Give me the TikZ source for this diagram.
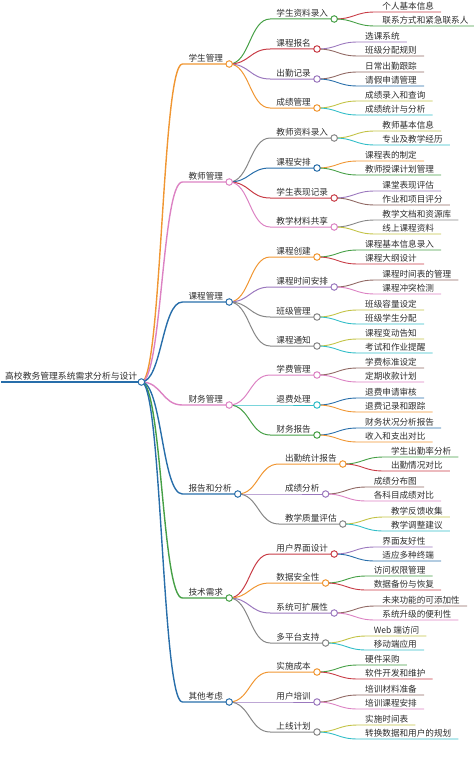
\documentclass[tikz,border=0pt]{standalone}
\usepackage{fontspec}
\setmainfont{Noto Sans CJK SC}
\usetikzlibrary{calc, backgrounds}
\definecolor{mapblue}{RGB}{40,110,170}
\definecolor{maporange}{RGB}{240,150,50}
\definecolor{mapgreen}{RGB}{70,160,70}
\definecolor{mapred}{RGB}{200,60,70}
\definecolor{mappurple}{RGB}{155,120,190}
\definecolor{mapbrown}{RGB}{145,105,100}
\definecolor{mappink}{RGB}{220,130,195}
\definecolor{mapgray}{RGB}{135,135,135}
\definecolor{mapolive}{RGB}{195,195,70}
\definecolor{mapcyan}{RGB}{50,190,200}
\definecolor{maptext}{RGB}{45,45,45}

\begin{document}
\begin{tikzpicture}[x=1bp, y=-1bp,
    topic/.style={anchor=south west, inner xsep=6bp, inner ysep=1.5bp, text=maptext,
                  font=\fontsize{8.6bp}{10bp}\selectfont},
    leaf/.style={topic, inner xsep=7bp},
    dot/.style={circle, draw, fill=white, line width=1bp, minimum size=6.5bp, inner sep=0pt},
    branch/.style={line width=1.4bp},
    twig/.style={line width=1bp},
    tip/.style={line width=0.9bp}]
  \useasboundingbox (0,0) rectangle (474,761);

  % centre topic
  \node[topic, inner xsep=4bp, font=\fontsize{8.8bp}{10bp}\selectfont] (root) at (1,382)
    {高校教务管理系统需求分析与设计};
  \draw[line width=2bp, mapblue] (root.south west) -- (root.south east);
  \node[dot, draw=mapblue] (root-dot) at (root.south east) {};

  % main branches
  \foreach \nm/\ypos/\lbl/\col in {stu/64/学生管理/maporange, tea/182/教师管理/mappink,
      crs/302/课程管理/mapblue, fin/405/财务管理/mappink, rep/494/报告和分析/mapblue,
      tec/598/技术需求/mapgreen, oth/702/其他考虑/mapblue}{
    \node[topic] (\nm) at ($(root.south east |- 0,\ypos)+(41,0)$) {\lbl};
    \begin{scope}[on background layer]
      \draw[branch, \col] (root.south east) .. controls +(20.5,0) and +(-20.5,0) .. (\nm.south west)
        -- (\nm.south east);
    \end{scope}
    \node[dot, draw=\col] (\nm-dot) at (\nm.south east) {};
  }

  % second level
  \foreach \from/\nm/\ypos/\lbl/\col in {
      stu/stu1/19/学生资料录入/mapgreen, stu/stu2/49/课程报名/mapred,
      stu/stu3/79/出勤记录/mappurple, stu/stu4/108/成绩管理/maporange,
      tea/tea1/138/教师资料录入/mapgray, tea/tea2/168/课程安排/mapblue,
      tea/tea3/198/学生表现记录/mapred, tea/tea4/227/教学材料共享/mappink,
      crs/crs1/257/课程创建/maporange, crs/crs2/287/课程时间安排/mappurple,
      crs/crs3/317/班级管理/mapgray, crs/crs4/346/课程通知/mapgray,
      fin/fin1/375/学费管理/mappink, fin/fin2/405/退费处理/mapcyan,
      fin/fin3/435/财务报告/mapgreen,
      rep/rep1/464/出勤统计报告/maporange, rep/rep2/494/成绩分析/mappurple,
      rep/rep3/524/教学质量评估/mapgray,
      tec/tec1/554/用户界面设计/mapred, tec/tec2/583/数据安全性/maporange,
      tec/tec3/613/系统可扩展性/mappurple, tec/tec4/643/多平台支持/mapgray,
      oth/oth1/672/实施成本/maporange, oth/oth2/702/用户培训/mappurple,
      oth/oth3/732/上线计划/mapgray}{
    \node[topic] (\nm) at ($(\from.south east |- 0,\ypos)+(41,0)$) {\lbl};
    \begin{scope}[on background layer]
      \draw[twig, \col] (\from.south east) .. controls +(20.5,0) and +(-20.5,0) .. (\nm.south west)
        -- (\nm.south east);
    \end{scope}
    \node[dot, draw=\col] (\nm-dot) at (\nm.south east) {};
  }

  % leaves, two per topic
  \foreach \from/\one/\cone/\two/\ctwo in {
      stu1/个人基本信息/mapred/联系方式和紧急联系人/mapgreen,
      stu2/选课系统/mappurple/班级分配规则/mapbrown,
      stu3/日常出勤跟踪/mapbrown/请假申请管理/mapblue,
      stu4/成绩录入和查询/mapolive/成绩统计与分析/mapcyan,
      tea1/教师基本信息/mapolive/专业及教学经历/mapcyan,
      tea2/课程表的制定/maporange/教师授课计划管理/mapgreen,
      tea3/课堂表现评估/mappurple/作业和项目评分/mapbrown,
      tea4/教学文档和资源库/mapgray/线上课程资料/mapolive,
      crs1/课程基本信息录入/mapgreen/课程大纲设计/mapred,
      crs2/课程时间表的管理/mapbrown/课程冲突检测/mappink,
      crs3/班级容量设定/mapolive/班级学生分配/mapcyan,
      crs4/课程变动告知/mapolive/考试和作业提醒/mapcyan,
      fin1/学费标准设定/mapbrown/定期收款计划/mappink,
      fin2/退费申请审核/mapblue/退费记录和跟踪/maporange,
      fin3/财务状况分析报告/mapblue/收入和支出对比/maporange,
      rep1/学生出勤率分析/mapgreen/出勤情况对比/mapred,
      rep2/成绩分布图/mapbrown/各科目成绩对比/mappink,
      rep3/教学反馈收集/mapolive/教学调整建议/mapcyan,
      tec1/界面友好性/mappurple/适应多种终端/mapblue,
      tec2/访问权限管理/mapgreen/数据备份与恢复/mapred,
      tec3/未来功能的可添加性/mapbrown/系统升级的便利性/mappink,
      tec4/Web 端访问/mapolive/移动端应用/mapcyan,
      oth1/硬件采购/mapgreen/软件开发和维护/mapred,
      oth2/培训材料准备/mapbrown/培训课程安排/mappink,
      oth3/实施时间表/mapolive/转换数据和用户的规划/mapcyan}{
    \node[leaf] (\from-a) at ($(\from.south east)+(41,-7)$) {\one};
    \node[leaf] (\from-b) at ($(\from.south east)+(41,7)$) {\two};
    \begin{scope}[on background layer]
      \draw[tip, \cone] (\from.south east) .. controls +(20.5,0) and +(-20.5,0) .. (\from-a.south west)
        -- (\from-a.south east);
      \draw[tip, \ctwo] (\from.south east) .. controls +(20.5,0) and +(-20.5,0) .. (\from-b.south west)
        -- (\from-b.south east);
    \end{scope}
  }
\end{tikzpicture}
\end{document}
